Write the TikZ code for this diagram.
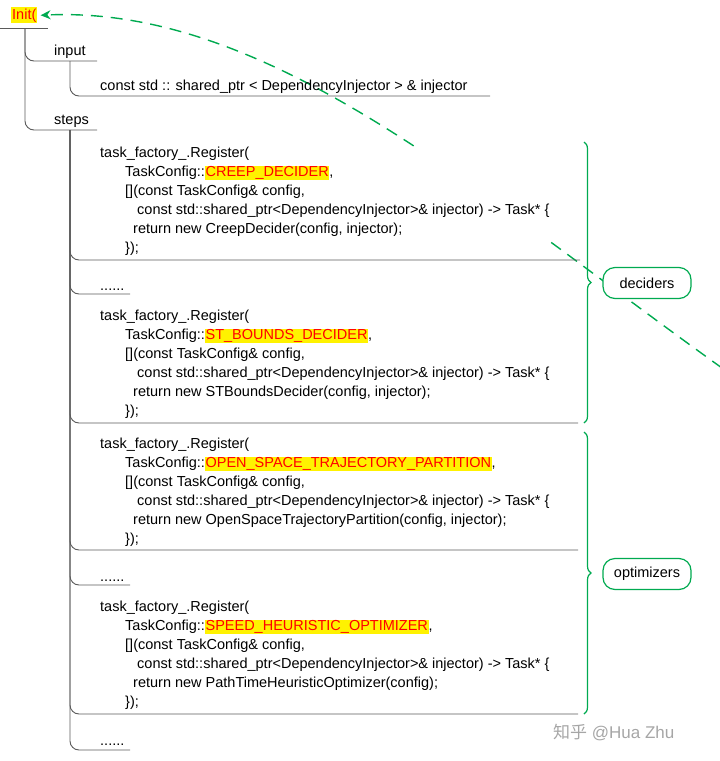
\documentclass[tikz,border=0pt]{standalone}
\usepackage{fontspec}
\setmainfont{Liberation Sans}
\newfontfamily\cjk{Noto Sans CJK SC}
\usetikzlibrary{decorations.pathreplacing,arrows.meta}
\definecolor{gr}{RGB}{0,170,80}
\definecolor{ln}{RGB}{90,90,90}
\newcommand{\hlt}[1]{{\setlength{\fboxsep}{0.6pt}\colorbox{yellow}{\textcolor{red}{#1}}}}
\tikzset{
  tree/.style={draw=ln,line width=0.9pt,rounded corners=9pt},
  lbl/.style={inner sep=0pt,anchor=base west,font=\fontsize{14.5}{19}\selectfont},
  blk/.style={inner sep=0pt,anchor=north west,align=left,font=\fontsize{14.5}{19}\selectfont,fill=white},
  brc/.style={draw=gr,line width=1.2pt,decorate,decoration={brace,amplitude=7pt}},
  tag/.style={draw=gr,line width=1.2pt,rounded corners=12pt,minimum width=88pt,minimum height=31pt,fill=white,font=\fontsize{14.5}{16}\selectfont}
}
\begin{document}
\begin{tikzpicture}[x=1pt,y=-1pt]
\useasboundingbox (0,0) rectangle (720,761);
\coordinate (arrs) at (722,368);
\node[lbl,fill=yellow,text=red,inner sep=1pt] (init) at (11,19) {Init(};
\draw[dashed,dash pattern=on 12pt off 8pt,gr,line width=1.4pt,-{Stealth[length=10pt,width=9pt]}] (arrs) .. controls (480,195) and (270,5) .. ([xshift=3pt]init.east);
% tree lines
\draw[tree] (0,28) -- (48,28);
\draw[tree] (25,28) |- (97,61);
\draw[tree] (25,28) |- (97,130);
\draw[tree] (70,61) |- (490,96);
\node[lbl] (input) at (54,55) {input};
\node[lbl] (inj) at (100,90) {const std :: shared\_ptr < DependencyInjector > \& injector};
\node[lbl] (steps) at (54,124) {steps};
\draw[tree] (70,130) |- (580,260);
\draw[tree] (70,130) |- (130,294);
\draw[tree] (70,130) |- (578,423);
\draw[tree] (70,130) |- (578,550);
\draw[tree] (70,130) |- (130,585);
\draw[tree] (70,130) |- (578,714);
\draw[tree] (70,130) |- (130,750);
\node[blk] (b1) at (100,147) {task\_factory\_.Register(\\
\hspace*{25pt}TaskConfig::\hlt{CREEP\_DECIDER},\\
\hspace*{25pt}[](const TaskConfig\& config,\\
\hspace*{37pt}const std::shared\_ptr<DependencyInjector>\& injector) -> Task* \{\\
\hspace*{33pt}return new CreepDecider(config, injector);\\
\hspace*{25pt}\});};
\node[lbl] (d1) at (100,290) {......};
\node[blk] (b2) at (100,310) {task\_factory\_.Register(\\
\hspace*{25pt}TaskConfig::\hlt{ST\_BOUNDS\_DECIDER},\\
\hspace*{25pt}[](const TaskConfig\& config,\\
\hspace*{37pt}const std::shared\_ptr<DependencyInjector>\& injector) -> Task* \{\\
\hspace*{33pt}return new STBoundsDecider(config, injector);\\
\hspace*{25pt}\});};
\node[blk] (b3) at (100,438) {task\_factory\_.Register(\\
\hspace*{25pt}TaskConfig::\hlt{OPEN\_SPACE\_TRAJECTORY\_PARTITION},\\
\hspace*{25pt}[](const TaskConfig\& config,\\
\hspace*{37pt}const std::shared\_ptr<DependencyInjector>\& injector) -> Task* \{\\
\hspace*{33pt}return new OpenSpaceTrajectoryPartition(config, injector);\\
\hspace*{25pt}\});};
\node[lbl] (d2) at (100,581) {......};
\node[blk] (b4) at (100,601) {task\_factory\_.Register(\\
\hspace*{25pt}TaskConfig::\hlt{SPEED\_HEURISTIC\_OPTIMIZER},\\
\hspace*{25pt}[](const TaskConfig\& config,\\
\hspace*{37pt}const std::shared\_ptr<DependencyInjector>\& injector) -> Task* \{\\
\hspace*{33pt}return new PathTimeHeuristicOptimizer(config);\\
\hspace*{25pt}\});};
\node[lbl] (d3) at (100,745) {......};
% braces
\coordinate (bt1) at (584,142); \coordinate (bb1) at (584,423);
\coordinate (bt2) at (584,432); \coordinate (bb2) at (584,714);
\draw[brc] (bt1) -- (bb1);
\draw[brc] (bt2) -- (bb2);
\node[tag] (dec) at (647,283) {deciders};
\node[tag] (opt) at (647,574) {optimizers};
\node[inner sep=0pt,anchor=base west,text=gray!70,font=\fontsize{17}{19}\selectfont] (wm) at (553,738) {{\cjk 知乎} @Hua Zhu};
\end{tikzpicture}
\end{document}
